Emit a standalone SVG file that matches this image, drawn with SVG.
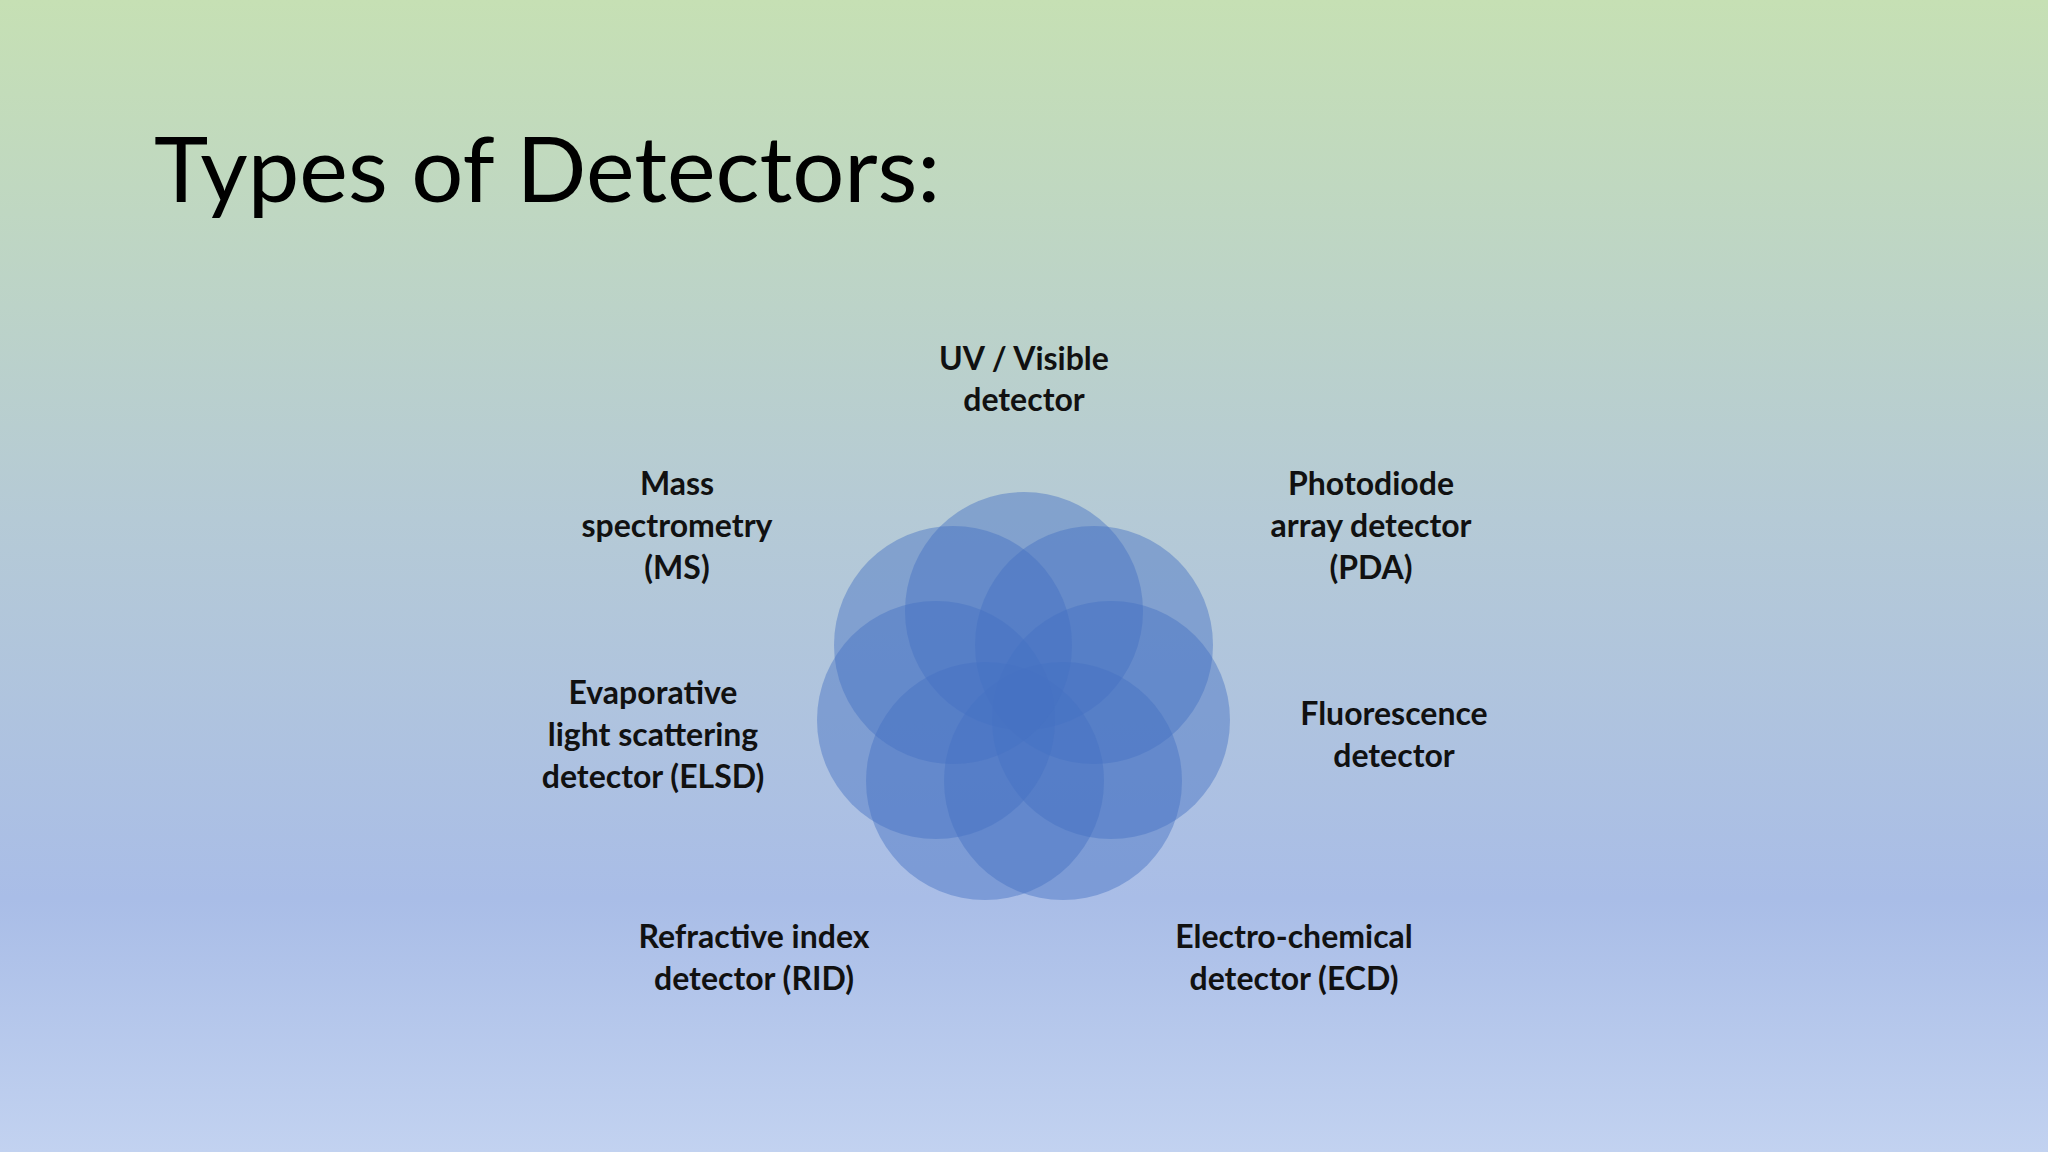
<svg xmlns="http://www.w3.org/2000/svg" width="2048" height="1152" viewBox="0 0 2048 1152">
<defs>
<linearGradient id="bg" x1="0" y1="0" x2="0" y2="1">
<stop offset="0" stop-color="#c6e0b4"/>
<stop offset="0.45" stop-color="#b5cad6"/>
<stop offset="0.78" stop-color="#a9bde7"/>
<stop offset="1" stop-color="#c2d2f0"/>
</linearGradient>
<style>
.c{fill:#4472c4;fill-opacity:0.45}
.t{font-family:Lato,"Open Sans",sans-serif;font-weight:bold;font-size:32px;fill:#111;text-anchor:middle}
</style>
</defs>
<rect width="2048" height="1152" fill="url(#bg)"/>
<text x="154" y="202" font-family="Lato,'Open Sans',sans-serif" font-size="92" fill="#000">Types of Detectors:</text>
<g id="flower">
<circle class="c" cx="1024" cy="611" r="119"/>
<circle class="c" cx="1094" cy="645" r="119"/>
<circle class="c" cx="1111" cy="720" r="119"/>
<circle class="c" cx="1063" cy="781" r="119"/>
<circle class="c" cx="985" cy="781" r="119"/>
<circle class="c" cx="936" cy="720" r="119"/>
<circle class="c" cx="953" cy="645" r="119"/>
</g>
<g id="connectors"/>
<g id="uv"><text class="t" x="1024" y="370">UV / Visible</text><text class="t" x="1024" y="411">detector</text></g>
<g id="ms"><text class="t" x="677" y="495">Mass</text><text class="t" x="677" y="537">spectrometry</text><text class="t" x="677" y="579">(MS)</text></g>
<g id="pda"><text class="t" x="1371" y="495">Photodiode</text><text class="t" x="1371" y="537">array detector</text><text class="t" x="1371" y="579">(PDA)</text></g>
<g id="elsd"><text class="t" x="653" y="704">Evaporative</text><text class="t" x="653" y="746">light scattering</text><text class="t" x="653" y="788">detector (ELSD)</text></g>
<g id="fl"><text class="t" x="1394" y="725">Fluorescence</text><text class="t" x="1394" y="767">detector</text></g>
<g id="rid"><text class="t" x="754" y="948">Refractive index</text><text class="t" x="754" y="990">detector (RID)</text></g>
<g id="ecd"><text class="t" x="1294" y="948">Electro-chemical</text><text class="t" x="1294" y="990">detector (ECD)</text></g>
</svg>
